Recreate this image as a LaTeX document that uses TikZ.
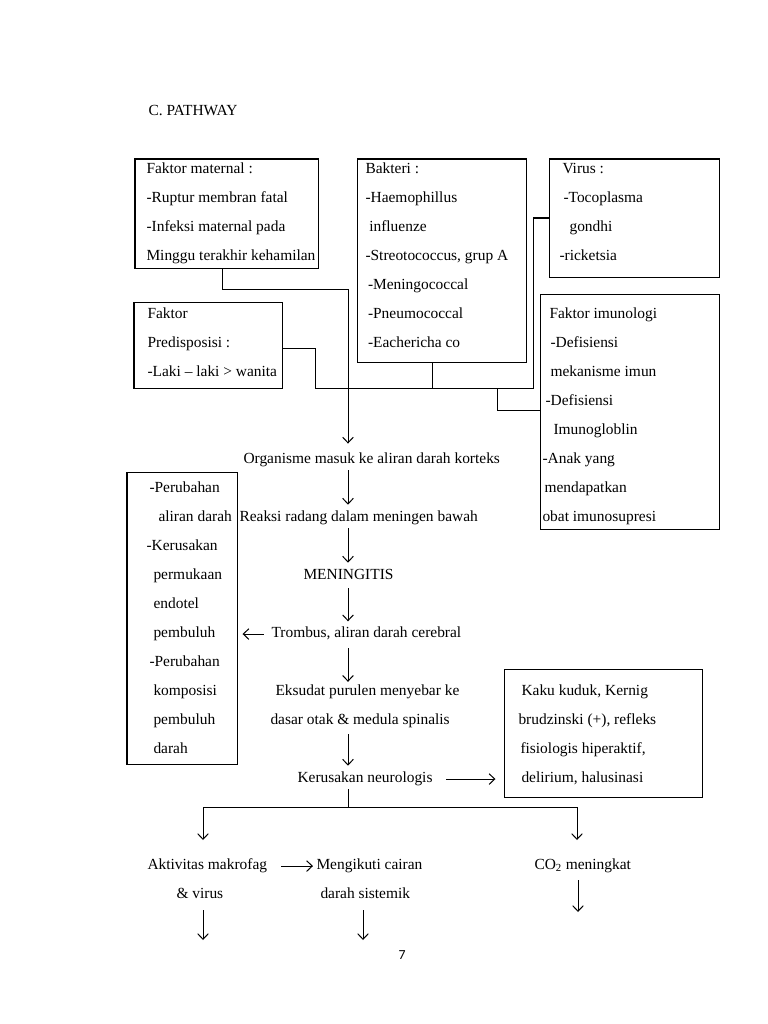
\documentclass[tikz,border=0pt]{standalone}
\usepackage{fontspec}
\setmainfont{Liberation Serif}
\newfontfamily\pagefont{Carlito}
\usetikzlibrary{arrows.meta,fit,calc}
\begin{document}
\begin{tikzpicture}[x=0.796875pt,y=-0.796875pt,
  line width=0.8pt,
  every node/.style={font=\fontsize{12.3}{23.11}\selectfont},
  boxtext/.style={anchor=base west, inner sep=0pt, text width=220pt, align=flush left},
  flow/.style={anchor=base west, inner xsep=0pt, inner ysep=2.5pt, text height=8pt, text depth=2.5pt},
  frame/.style={draw, inner sep=0pt},
  arr/.style={-{Straight Barb[length=4.5pt,width=8.5pt]}},
]
\useasboundingbox (0,0) rectangle (768,1024);

% title
\node[flow] (title) at (148,115.5) {C. PATHWAY};

% boxes
\node[frame, fit={(135,159) (318,268)}] (bmat) {};
\node[boxtext] (tmat) at (146,173.5) {Faktor maternal :\\-Ruptur membran fatal\\-Infeksi maternal pada\\Minggu terakhir kehamilan};

\node[frame, fit={(357,159) (526,362)}] (bbak) {};
\node[boxtext] (tbak) at (365,173.5) {Bakteri :\\-Haemophillus\\\hspace*{3pt}influenze\\-Streotococcus, grup A\\\hspace*{2pt}-Meningococcal\\\hspace*{2pt}-Pneumococcal\\\hspace*{2pt}-Eachericha co};

\node[frame, fit={(549,159) (719,277)}] (bvir) {};
\node[boxtext] (tvir) at (559,173.5) {\hspace*{2.4pt}Virus :\\\hspace*{3.2pt}-Tocoplasma\\\hspace*{8pt}gondhi\\-ricketsia};

\node[frame, fit={(134,302) (282,388)}] (bpred) {};
\node[boxtext] (tpred) at (147,318.5) {Faktor\\Predisposisi :\\-Laki -- laki > wanita};

\node[frame, fit={(540,294) (719,529)}] (bimun) {};
\node[boxtext] (timun) at (542,318.5) {\hspace*{5.6pt}Faktor imunologi\\\hspace*{6.4pt}-Defisiensi\\\hspace*{6.4pt}mekanisme imun\\\hspace*{2.4pt}-Defisiensi\\\hspace*{8.8pt}Imunogloblin\\-Anak yang\\\hspace*{1.6pt}mendapatkan\\obat imunosupresi};

\node[frame, fit={(127,472) (237,764)}] (bleft) {};
\node[boxtext] (tleft) at (146,492.5) {\hspace*{2.4pt}-Perubahan\\\hspace*{9.6pt}aliran darah\\-Kerusakan\\\hspace*{5.6pt}permukaan\\\hspace*{5.6pt}endotel\\\hspace*{5.6pt}pembuluh\\\hspace*{2.4pt}-Perubahan\\\hspace*{5.6pt}komposisi\\\hspace*{5.6pt}pembuluh\\\hspace*{5.6pt}darah};

\node[frame, fit={(504,669) (702,797)}] (bkaku) {};
\node[boxtext] (tkaku) at (518,695.5) {\hspace*{2.4pt}Kaku kuduk, Kernig\\brudzinski (+), refleks\\\hspace*{1.6pt}fisiologis hiperaktif,\\\hspace*{2.4pt}delirium, halusinasi};

% main flow texts
\node[flow] (org) at (243,463.5) {Organisme masuk ke aliran darah korteks};
\node[flow] (reak) at (239,521.5) {Reaksi radang dalam meningen bawah};
\node[flow] (men) at (303,579.5) {MENINGITIS};
\node[flow] (trom) at (271,637.5) {Trombus, aliran darah cerebral};
\node[flow] (eks1) at (275,695.5) {Eksudat purulen menyebar ke};
\node[flow] (eks2) at (270,724.5) {dasar otak \& medula spinalis};
\node[flow] (ker) at (297,782.5) {Kerusakan neurologis};
\node[flow] (akt1) at (147,869.5) {Aktivitas makrofag};
\node[flow] (akt2) at (176,898.5) {\& virus};
\node[flow] (mng1) at (316,869.5) {Mengikuti cairan};
\node[flow] (mng2) at (320,898.5) {darah sistemik};
\node[flow] (co) at (534,869.5) {CO\textsubscript{2} meningkat};

\node[font=\pagefont\fontsize{11}{13}\selectfont] (pg) at (402,955) {7};

% top connectors
\coordinate (cm) at (222,289);
\coordinate (ax) at (348,289);
\draw (bmat.south -| cm) -- (cm) -- (ax);
\draw[arr, shorten >=5pt] (ax) -- (org.north -| ax);

\coordinate (p1) at (315,348);
\coordinate (p2) at (315,388);
\coordinate (v1) at (533,388);
\coordinate (v2) at (533,218);
\draw (bpred.east |- p1) -- (p1) -- (p2) -- (v1) -- (v2) -- (v2 -| bvir.west);

\coordinate (bx) at (432,388);
\draw (bbak.south -| bx) -- (bx);

\coordinate (i1) at (497,410);
\coordinate (i2) at (497,388);
\draw (bimun.west |- i1) -- (i1) -- (i2);

% main vertical arrows
\draw[arr, shorten >=2.5pt] (org.south -| ax) -- (reak.north -| ax);
\draw[arr, shorten >=2.5pt] (reak.south -| ax) -- (men.north -| ax);
\draw[arr, shorten >=2pt, shorten <=1.5pt] (men.south -| ax) -- (trom.north -| ax);
\draw[arr, shorten >=0pt, shorten <=3pt] (trom.south -| ax) -- (eks1.north -| ax);
\draw[arr, shorten >=2.5pt, shorten <=2.5pt] (eks2.south -| ax) -- (ker.north -| ax);

% side arrows
\draw[arr, shorten <=5.6pt, shorten >=4pt] (trom.west) -- (trom.west -| bleft.east);
\draw[arr, shorten <=10.4pt, shorten >=6.4pt] (ker.east) -- (ker.east -| bkaku.west);
\draw[arr, shorten <=11pt, shorten >=2.4pt] (akt1.east) -- (akt1.east -| mng1.west);

% branching
\coordinate (jb) at (348,807);
\coordinate (jl) at (203,807);
\coordinate (jr) at (577,807);
\coordinate (al) at (203,840);
\coordinate (ar) at (577,840);
\draw (ker.south -| jb) -- (jb);
\draw (jl) -- (jr);
\draw[arr] (jl) -- (al);
\draw[arr] (jr) -- (ar);

% final arrows
\coordinate (e1) at (203,940);
\coordinate (e2) at (363,940);
\coordinate (e3) at (578,912);
\draw[arr, shorten <=4pt] (akt2.south -| e1) -- (e1);
\draw[arr, shorten <=4pt] (mng2.south -| e2) -- (e2);
\draw[arr, shorten <=3pt] (co.south -| e3) -- (e3);
\end{tikzpicture}
\end{document}
